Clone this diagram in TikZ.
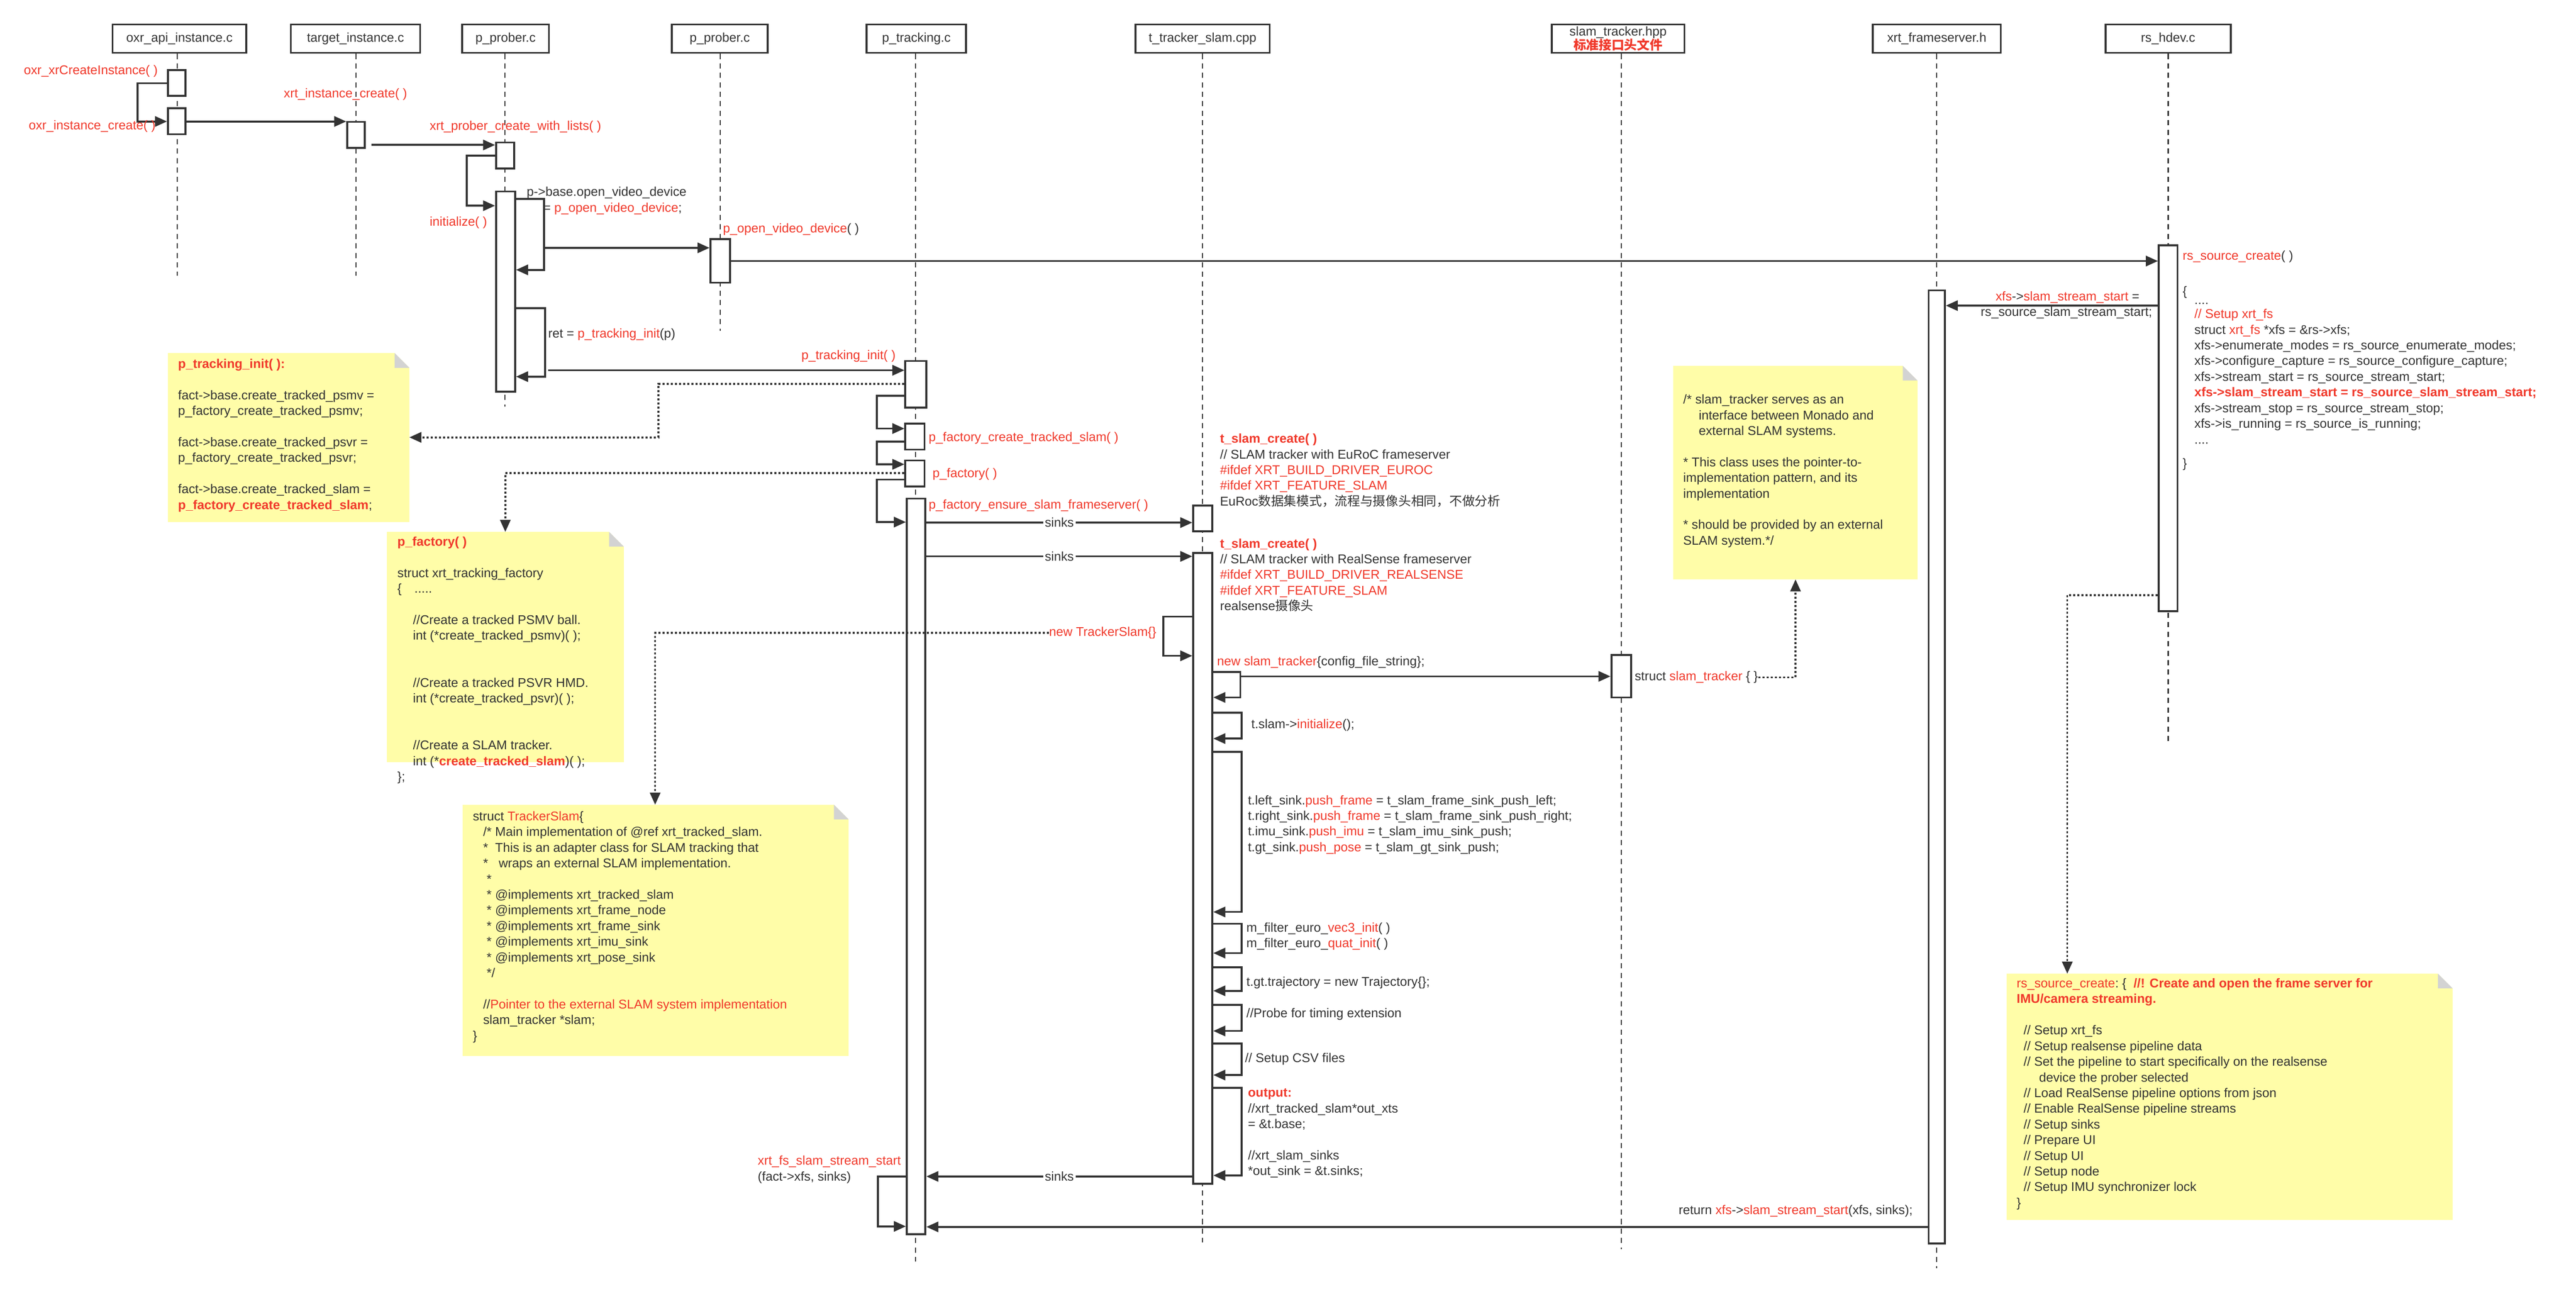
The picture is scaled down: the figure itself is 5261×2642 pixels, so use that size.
\documentclass[tikz,border=0pt]{standalone}
\usepackage{fontspec}
\setmainfont{Liberation Sans}
\newfontfamily\cjk{Noto Sans CJK SC}
\usetikzlibrary{arrows.meta,fit}
\definecolor{myred}{HTML}{F0392B}
\definecolor{ink}{HTML}{333333}
\definecolor{notey}{HTML}{FFFDA8}
\definecolor{foldg}{HTML}{D3D3D3}
\newcommand\rr[1]{\textcolor{myred}{#1}}
\newcommand\rb[1]{\textcolor{myred}{\bfseries #1}}
\newcommand\notebox[4]{%
  \fill[notey] (#1,#2) -- ({#3-30},#2) -- (#3,{#2+30}) -- (#3,#4) -- (#1,#4) -- cycle;
  \fill[foldg] ({#3-30},#2) -- (#3,{#2+30}) -- ({#3-30},{#2+30}) -- cycle;}
\begin{document}
\begin{tikzpicture}[x=0.01cm,y=-0.01cm,
  font=\fontsize{7.4}{9.1}\selectfont,
  every node/.style={text=ink},
  hdr/.style={draw=ink,line width=1.1pt,fill=white,inner sep=0},
  act/.style={draw=ink,line width=1.1pt,fill=white,inner sep=0},
  life/.style={draw=ink,line width=0.7pt,dash pattern=on 3pt off 2.5pt},
  msg/.style={draw=ink,line width=1.1pt,-{Triangle[length=7pt,width=6pt]}},
  dotc/.style={draw=ink,line width=1.1pt,dash pattern=on 1.2pt off 1.2pt,-{Triangle[length=7pt,width=6pt]}},
  lbl/.style={anchor=west,inner sep=0},
  lble/.style={anchor=east,inner sep=0},
  blk/.style={anchor=north west,inner sep=0,align=left},
  onl/.style={fill=white,inner sep=1pt}]
\useasboundingbox[fill=white] (0,0) rectangle (5261,2642);

% headers
\node[hdr,fit={(230,50)(503,108)}] (h1) {}; \node (h1t) at (h1) {oxr\_api\_instance.c};
\node[hdr,fit={(594,50)(858,108)}] (h2) {}; \node (h2t) at (h2) {target\_instance.c};
\node[hdr,fit={(944,50)(1121,108)}] (h3) {}; \node (h3t) at (h3) {p\_prober.c};
\node[hdr,fit={(1372,50)(1568,108)}] (h4) {}; \node (h4t) at (h4) {p\_prober.c};
\node[hdr,fit={(1770,50)(1973,108)}] (h5) {}; \node (h5t) at (h5) {p\_tracking.c};
\node[hdr,fit={(2319,50)(2593,108)}] (h6) {}; \node (h6t) at (h6) {t\_tracker\_slam.cpp};
\node[hdr,fit={(3169,50)(3440,108)}] (h7) {}; \node[align=center,inner sep=0] (h7t) at (h7) {slam\_tracker.hpp\\[-1pt]\textcolor{myred}{\cjk\bfseries 标准接口头文件}};
\node[hdr,fit={(3825,50)(4086,108)}] (h8) {}; \node (h8t) at (h8) {xrt\_frameserver.h};
\node[hdr,fit={(4300,50)(4556,108)}] (h9) {}; \node (h9t) at (h9) {rs\_hdev.c};

% lifelines
\coordinate (e1) at (362,563); \coordinate (e2) at (727,563); \coordinate (e3) at (1031,830);
\coordinate (e4) at (1471,676); \coordinate (e5) at (1870,2576); \coordinate (e6) at (2456,2537);
\coordinate (e7) at (3311,2550); \coordinate (e8) at (3955,2589); \coordinate (e9) at (4428,1517);
\draw[life] (h1.south -| e1) -- (e1);
\draw[life] (h2.south -| e2) -- (e2);
\draw[life] (h3.south -| e3) -- (e3);
\draw[life] (h4.south -| e4) -- (e4);
\draw[life] (h5.south -| e5) -- (e5);
\draw[life] (h6.south -| e6) -- (e6);
\draw[life] (h7.south -| e7) -- (e7);
\draw[life] (h8.south -| e8) -- (e8);
\draw[life] (h9.south -| e9) -- (e9);

% notes
\notebox{343}{721}{836}{1066}
\notebox{790}{1086}{1274}{1556}
\notebox{945}{1643}{1733}{2156}
\notebox{3417}{747}{3916}{1183}
\notebox{4098}{1988}{5009}{2491}
\coordinate (n1) at (836,893); \coordinate (n2) at (1032,1086); \coordinate (n4) at (1338,1643);
\coordinate (n3) at (3667,1183); \coordinate (n6) at (4222,1988);

% activation boxes
\node[act,fit={(343,143)(379,196)}] (oA1) {};
\node[act,fit={(343,221)(379,274)}] (oA2) {};
\node[act,fit={(709,249)(745,302)}] (tA) {};
\node[act,fit={(1013,291)(1050,344)}] (pA1) {};
\node[act,fit={(1013,391)(1052,800)}] (pA2) {};
\node[act,fit={(1451,488)(1491,577)}] (qA) {};
\node[act,fit={(1849,737)(1892,832)}] (kA) {};
\node[act,fit={(1849,865)(1888,918)}] (kB) {};
\node[act,fit={(1849,940)(1888,993)}] (kC) {};
\node[act,fit={(1852,1018)(1890,2520)}] (kD) {};
\node[act,fit={(2437,1032)(2476,1085)}] (sA1) {};
\node[act,fit={(2437,1129)(2476,2417)}] (sA2) {};
\node[act,fit={(3291,1337)(3331,1424)}] (hA) {};
\node[act,fit={(3939,593)(3972,2539)}] (fA) {};
\node[act,fit={(4409,501)(4447,1248)}] (rA) {};

% messages
\draw[msg] (oA1.west|-0,170) -- (281,170) -- (281,248) -- (oA2.west|-0,248);
\draw[msg] (oA2.east|-0,248) -- (tA.west|-0,248);
\draw[msg] (759,296) -- (pA1.west|-0,296);
\draw[msg] (pA1.west|-0,318) -- (953,318) -- (953,420) -- (pA2.west|-0,420);
\draw[msg] (pA2.east|-0,406) -- (1111,406) -- (1111,551) -- (pA2.east|-0,551);
\draw[msg] (1111,506) -- (qA.west|-0,506);
\draw[msg] (qA.east|-0,533) -- (rA.west|-0,533);
\draw[msg] (pA2.east|-0,629) -- (1113,629) -- (1113,769) -- (pA2.east|-0,769);
\draw[msg] (1119,756) -- (kA.west|-0,756);
\draw[msg] (kA.west|-0,808) -- (1791,808) -- (1791,875) -- (kB.west|-0,875);
\draw[msg] (kB.west|-0,902) -- (1791,902) -- (1791,948) -- (kC.west|-0,948);
\draw[msg] (kC.west|-0,979) -- (1791,979) -- (1791,1066) -- (kD.west|-0,1066);
\draw[msg] (kD.east|-0,1067) -- node[onl] (sk1) {sinks} (sA1.west|-0,1067);
\draw[msg] (kD.east|-0,1136) -- node[onl] (sk2) {sinks} (sA2.west|-0,1136);
\draw[msg] (sA2.west|-0,1259) -- (2376,1259) -- (2376,1339) -- (sA2.west|-0,1339);
\draw[msg] (sA2.east|-0,1372) -- (2533,1372) -- (2533,1424) -- (sA2.east|-0,1424);
\draw[msg] (2533,1381) -- (hA.west|-0,1381);
\foreach \a/\b in {1455/1508,1535/1862,1886/1946,1975/2023,2052/2105,2131/2195,2221/2400}
  \draw[msg] (sA2.east|-0,\a) -- (2536,\a) -- (2536,\b) -- (sA2.east|-0,\b);
\draw[msg] (sA2.west|-0,2402) -- node[onl] (sk3) {sinks} (kD.east|-0,2402);
\draw[msg] (kD.west|-0,2402) -- (1793,2402) -- (1793,2504) -- (kD.west|-0,2504);
\draw[msg] (fA.west|-0,2505) -- (kD.east|-0,2505);
\draw[msg] (rA.west|-0,624) -- (fA.east|-0,624);

% labels
\node[lbl] (l1) at (48,145) {\rr{oxr\_xrCreateInstance( )}};
\node[lbl] (l2) at (58,258) {\rr{oxr\_instance\_create( )}};
\node[lbl] (l3) at (579,193) {\rr{xrt\_instance\_create( )}};
\node[lbl] (l4) at (877,259) {\rr{xrt\_prober\_create\_with\_lists( )}};
\node[lbl] (l5) at (877,455) {\rr{initialize( )}};
\node[lbl] (l6) at (1075,394) {p->base.open\_video\_device};
\node[lbl] (l7) at (1109,426) {= \rr{p\_open\_video\_device};};
\node[lbl] (l8) at (1476,468) {\rr{p\_open\_video\_device}( )};
\node[lbl] (l9) at (1119,683) {ret = \rr{p\_tracking\_init}(p)};
\node[lbl] (l10) at (1636,727) {\rr{p\_tracking\_init( )}};
\node[lbl] (l11) at (4457,524) {\rr{rs\_source\_create}( )};
\node[lbl] (l12) at (1896,894) {\rr{p\_factory\_create\_tracked\_slam( )}};
\node[lbl] (l13) at (1904,968) {\rr{p\_factory( )}};
\node[lbl] (l14) at (1896,1032) {\rr{p\_factory\_ensure\_slam\_frameserver( )}};
\node[blk] (l15) at (2491,885) {\rb{t\_slam\_create( )}\\// SLAM tracker with EuRoC frameserver\\\rr{\#ifdef XRT\_BUILD\_DRIVER\_EUROC}\\\rr{\#ifdef XRT\_FEATURE\_SLAM}\\EuRoc{\cjk 数据集模式，流程与摄像头相同，不做分析}};
\node[blk] (l16) at (2491,1099) {\rb{t\_slam\_create( )}\\// SLAM tracker with RealSense frameserver\\\rr{\#ifdef XRT\_BUILD\_DRIVER\_REALSENSE}\\\rr{\#ifdef XRT\_FEATURE\_SLAM}\\realsense{\cjk 摄像头}};
\node[lbl] (l17) at (2142,1292) {\rr{new TrackerSlam\{\}}};
\node[lbl] (l18) at (2485,1352) {\rr{new slam\_tracker}\{config\_file\_string\};};
\node[lbl] (l19) at (3338,1383) {struct \rr{slam\_tracker} \{ \}};
\node[lbl] (l20) at (2555,1481) {t.slam->\rr{initialize}();};
\node[blk] (l21) at (2548,1623) {t.left\_sink.\rr{push\_frame} = t\_slam\_frame\_sink\_push\_left;\\t.right\_sink.\rr{push\_frame} = t\_slam\_frame\_sink\_push\_right;\\t.imu\_sink.\rr{push\_imu} = t\_slam\_imu\_sink\_push;\\t.gt\_sink.\rr{push\_pose} = t\_slam\_gt\_sink\_push;};
\node[blk] (l22) at (2545,1883) {m\_filter\_euro\_\rr{vec3\_init}( )\\m\_filter\_euro\_\rr{quat\_init}( )};
\node[lbl] (l23) at (2545,2007) {t.gt.trajectory = new Trajectory\{\};};
\node[lbl] (l24) at (2545,2071) {//Probe for timing extension};
\node[lbl] (l25) at (2542,2162) {// Setup CSV files};
\node[blk] (l26) at (2548,2222) {\rb{output:}\\//xrt\_tracked\_slam*out\_xts\\= \&t.base;\\[9.1pt]//xrt\_slam\_sinks\\*out\_sink = \&t.sinks;};
\node[blk] (l27) at (1547,2359) {\rr{xrt\_fs\_slam\_stream\_start}\\(fact->xfs, sinks)};
\node[lble] (l28) at (3907,2473) {return \rr{xfs}->\rr{slam\_stream\_start}(xfs, sinks);};
\node[lble] (l29) at (4370,607) {\rr{xfs}->\rr{slam\_stream\_start} =};
\node[lble] (l30) at (4396,639) {rs\_source\_slam\_stream\_start;};
\node[lbl] (l31) at (4457,597) {\{};
\node[blk] (l32) at (4481,618) {....\\[-1pt]\rr{// Setup xrt\_fs}\\struct \rr{xrt\_fs} *xfs = \&rs->xfs;\\xfs->enumerate\_modes = rs\_source\_enumerate\_modes;\\xfs->configure\_capture = rs\_source\_configure\_capture;\\xfs->stream\_start = rs\_source\_stream\_start;\\\rb{xfs->slam\_stream\_start = rs\_source\_slam\_stream\_start;}\\xfs->stream\_stop = rs\_source\_stream\_stop;\\xfs->is\_running = rs\_source\_is\_running;\\....};
\node[lbl] (l33) at (4457,948) {\}};

% note texts
\node[blk] (t1) at (363,732) {\rb{p\_tracking\_init( ):}\\[9.1pt]fact->base.create\_tracked\_psmv =\\p\_factory\_create\_tracked\_psmv;\\[9.1pt]fact->base.create\_tracked\_psvr =\\p\_factory\_create\_tracked\_psvr;\\[9.1pt]fact->base.create\_tracked\_slam =\\\rb{p\_factory\_create\_tracked\_slam};};
\node[blk] (t2) at (811,1095) {\rb{p\_factory( )}\\[9.1pt]struct xrt\_tracking\_factory\\\{\quad .....\\[9.1pt]\hspace*{9pt}//Create a tracked PSMV ball.\\\hspace*{9pt}int (*create\_tracked\_psmv)( );\\[18.2pt]\hspace*{9pt}//Create a tracked PSVR HMD.\\\hspace*{9pt}int (*create\_tracked\_psvr)( );\\[18.2pt]\hspace*{9pt}//Create a SLAM tracker.\\\hspace*{9pt}int (*\rb{create\_tracked\_slam})( );\\\};};
\node[blk] (t4) at (965,1656) {struct \rr{TrackerSlam}\{\\\hspace*{6pt}/* Main implementation of @ref xrt\_tracked\_slam.\\\hspace*{6pt}*\ \ This is an adapter class for SLAM tracking that\\\hspace*{6pt}*\ \ \ wraps an external SLAM implementation.\\\hspace*{8pt}*\\\hspace*{8pt}* @implements xrt\_tracked\_slam\\\hspace*{8pt}* @implements xrt\_frame\_node\\\hspace*{8pt}* @implements xrt\_frame\_sink\\\hspace*{8pt}* @implements xrt\_imu\_sink\\\hspace*{8pt}* @implements xrt\_pose\_sink\\\hspace*{8pt}*/\\[9.1pt]\hspace*{6pt}//\rr{Pointer to the external SLAM system implementation}\\\hspace*{6pt}slam\_tracker *slam;\\\}};
\node[blk] (t3) at (3437,805) {/* slam\_tracker serves as an\\\hspace*{9pt}interface between Monado and\\\hspace*{9pt}external SLAM systems.\\[9.1pt]* This class uses the pointer-to-\\implementation pattern, and its\\implementation\\[9.1pt]* should be provided by an external\\SLAM system.*/};
\node[blk] (t6) at (4118,1997) {\rr{rs\_source\_create}:\ \{\ \ \rb{//! Create and open the frame server for}\\\rb{IMU/camera streaming.}\\[9.1pt]\hspace*{4pt}// Setup xrt\_fs\\\hspace*{4pt}// Setup realsense pipeline data\\\hspace*{4pt}// Set the pipeline to start specifically on the realsense\\\hspace*{13pt}device the prober selected\\\hspace*{4pt}// Load RealSense pipeline options from json\\\hspace*{4pt}// Enable RealSense pipeline streams\\\hspace*{4pt}// Setup sinks\\\hspace*{4pt}// Prepare UI\\\hspace*{4pt}// Setup UI\\\hspace*{4pt}// Setup node\\\hspace*{4pt}// Setup IMU synchronizer lock\\\}};

% dotted connectors
\draw[dotc] (kA.west|-0,784) -- (1345,784) -- (1345,893) -- (n1);
\draw[dotc] (kC.west|-0,966) -- (1032,966) -- (n2);
\draw[dotc] (l17.west) -- (1338,1292) -- (n4);
\draw[dotc] (l19.east) -- (3667,1383) -- (n3);
\draw[dotc] (rA.west|-0,1215) -- (4222,1215) -- (n6);
\end{tikzpicture}
\end{document}
